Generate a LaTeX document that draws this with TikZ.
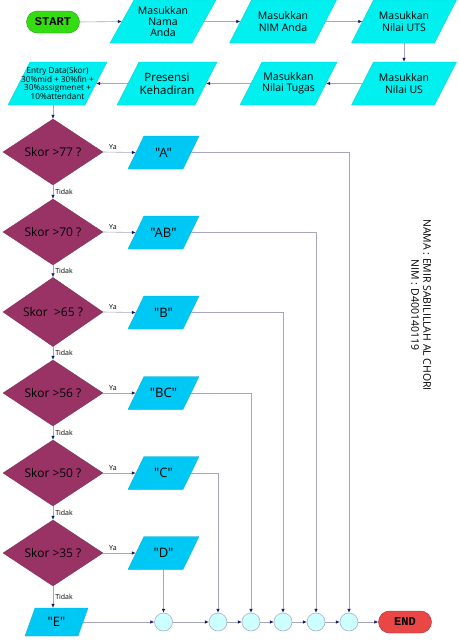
\documentclass[tikz,border=0pt]{standalone}
\usepackage{fontspec}
\setmainfont{Open Sans}[Ligatures=TeXOff]
\newfontfamily\termfont{Liberation Mono}
\usetikzlibrary{shapes.geometric,shapes.misc,arrows.meta}
\definecolor{proc}{RGB}{0,240,240}
\definecolor{outc}{RGB}{0,200,245}
\definecolor{decc}{RGB}{153,51,102}
\definecolor{conc}{RGB}{204,255,255}
\definecolor{linec}{RGB}{165,165,190}
\definecolor{tipc}{RGB}{20,20,120}
\definecolor{startc}{RGB}{51,221,17}
\definecolor{endc}{RGB}{235,70,70}
\newcommand{\pgram}[9]{%
  \filldraw[#7] ({#2-#4/2+#6},{#3-#5/2}) -- ({#2+#4/2},{#3-#5/2}) -- ({#2+#4/2-#6},{#3+#5/2}) -- ({#2-#4/2},{#3+#5/2}) -- cycle;
  \node[pgtext, minimum width={(#4-#6)*1pt}, minimum height={#5*1pt}, #9] (#1) at (#2,#3) {#8};}
\tikzset{
  pgtext/.style={inner sep=0pt, align=center, font=\fontsize{10.5}{11.2}\selectfont},
  procfill/.style={fill=proc, draw=proc!85!black, line width=0.3pt},
  outfill/.style={fill=outc, draw=outc!85!black, line width=0.3pt},
  decision/.style={diamond, fill=decc, draw=decc!80!black, line width=0.3pt, minimum width=100pt, minimum height=55pt, inner sep=0pt, font=\fontsize{12}{12}\selectfont},
  conn/.style={circle, fill=conc, draw=linec, line width=0.5pt, minimum size=18pt, inner sep=0pt},
  term/.style={rounded rectangle, minimum width=53pt, minimum height=22pt, inner sep=0pt, line width=0.4pt, font=\termfont\bfseries\fontsize{12}{12}\selectfont},
  flow/.style={draw=linec, line width=0.6pt, -{Latex[length=4pt,width=3.5pt,color=tipc]}},
  yalab/.style={above, pos=0.3, font=\fontsize{7}{7}\selectfont, inner sep=2pt},
  tidaklab/.style={right, pos=0.5, font=\fontsize{7}{7}\selectfont, inner sep=2pt},
  outtext/.style={font=\fontsize{13}{13}\selectfont},
  pres/.style={font=\fontsize{11.5}{13}\selectfont},
  entrytext/.style={font=\fontsize{8.2}{8.6}\selectfont}
}
\begin{document}
\begin{tikzpicture}[x=1pt,y=-1pt]
\useasboundingbox (0,0) rectangle (458,640);
\fill[white] (0,0) rectangle (458,640);
% terminals
\node[term, fill=startc, draw=startc!70!black] (start) at (53,22) {START};
\node[term, fill=endc, draw=endc!70!black] (end) at (405,622) {END};
% top processes
\pgram{nama}{163}{21.5}{106}{43}{24}{procfill}{Masukkan\\Nama\\Anda}{}
\pgram{nim}{283}{21.5}{107}{43}{22}{procfill}{Masukkan\\NIM Anda}{}
\pgram{uts}{404}{21.5}{105}{43}{22}{procfill}{Masukkan\\Nilai UTS}{}
\pgram{us}{404}{83.5}{105}{43}{22}{procfill}{Masukkan\\Nilai US}{}
\pgram{tugas}{288.5}{83.5}{97}{43}{22}{procfill}{Masukkan\\Nilai Tugas}{}
\pgram{presensi}{167}{83.5}{100}{43}{22}{procfill}{Presensi\\Kehadiran}{pres}
\pgram{entry}{57.5}{83.5}{99}{43}{22}{procfill}{Entry Data(Skor)\\30\%mid + 30\%fin +\\30\%assigmenet +\\10\%attendant}{entrytext}
% decisions
\node[decision] (d77) at (53,152) {Skor >77 ?};
\node[decision] (d70) at (53,232) {Skor >70 ?};
\node[decision] (d65) at (53,312) {Skor \ >65 ?};
\node[decision] (d56) at (53,393) {Skor >56 ?};
\node[decision] (d50) at (53,473) {Skor >50 ?};
\node[decision] (d35) at (53,553) {Skor >35 ?};
% outputs
\pgram{oA}{163.5}{152.5}{71}{33}{16}{outfill}{"A"}{outtext}
\pgram{oAB}{163.5}{232.5}{71}{33}{16}{outfill}{"AB"}{outtext}
\pgram{oB}{163.5}{312.5}{71}{33}{16}{outfill}{"B"}{outtext}
\pgram{oBC}{163.5}{393}{71}{33}{16}{outfill}{"BC"}{outtext}
\pgram{oC}{163.5}{473}{71}{33}{16}{outfill}{"C"}{outtext}
\pgram{oD}{163.5}{553}{71}{33}{16}{outfill}{"D"}{outtext}
\pgram{oE}{56.5}{622}{63}{28}{10}{outfill}{"E"}{outtext}
% connectors
\node[conn] (c1) at (163.5,622) {};
\node[conn] (c2) at (218,622) {};
\node[conn] (c3) at (251,622) {};
\node[conn] (c4) at (283,622) {};
\node[conn] (c5) at (316,622) {};
\node[conn] (c6) at (349,622) {};
% side text
\node[rotate=-90, align=center, font=\fontsize{10.5}{12}\selectfont] (namalabel) at (421,305) {NAMA : EMIR SABILILLAH AL CHORI\\NIM : D400140119};
% flow lines top
\draw[flow] (start.east) -- (nama.west);
\draw[flow] (nama.east) -- (nim.west);
\draw[flow] (nim.east) -- (uts.west);
\draw[flow] (uts.south) -- (us.north);
\draw[flow] (us.west) -- (tugas.east);
\draw[flow] (tugas.west) -- (presensi.east);
\draw[flow] (presensi.west) -- (entry.east);
\draw[flow] (d77.north |- entry.south) -- (d77.north);
% decisions
\draw[flow] (d77.east) -- node[yalab]{Ya} (oA.west);
\draw[flow] (d70.east) -- node[yalab]{Ya} (oAB.west);
\draw[flow] (d65.east) -- node[yalab]{Ya} (oB.west);
\draw[flow] (d56.east) -- node[yalab]{Ya} (oBC.west);
\draw[flow] (d50.east) -- node[yalab]{Ya} (oC.west);
\draw[flow] (d35.east) -- node[yalab]{Ya} (oD.west);
\draw[flow] (d77.south) -- node[tidaklab]{Tidak} (d70.north);
\draw[flow] (d70.south) -- node[tidaklab]{Tidak} (d65.north);
\draw[flow] (d65.south) -- node[tidaklab]{Tidak} (d56.north);
\draw[flow] (d56.south) -- node[tidaklab]{Tidak} (d50.north);
\draw[flow] (d50.south) -- node[tidaklab]{Tidak} (d35.north);
\draw[flow] (d35.south) -- node[tidaklab]{Tidak} (d35.south |- oE.north);
% outputs to connectors
\draw[flow] (oA.east) -| (c6.north);
\draw[flow] (oAB.east) -| (c5.north);
\draw[flow] (oB.east) -| (c4.north);
\draw[flow] (oBC.east) -| (c3.north);
\draw[flow] (oC.east) -| (c2.north);
\draw[flow] (oD.south) -- (c1.north);
\draw[flow] (oE.east) -- (c1.west);
\draw[flow] (c1.east) -- (c2.west);
\draw[flow] (c2.east) -- (c3.west);
\draw[flow] (c3.east) -- (c4.west);
\draw[flow] (c4.east) -- (c5.west);
\draw[flow] (c5.east) -- (c6.west);
\draw[flow] (c6.east) -- (end.west);
\end{tikzpicture}
\end{document}
